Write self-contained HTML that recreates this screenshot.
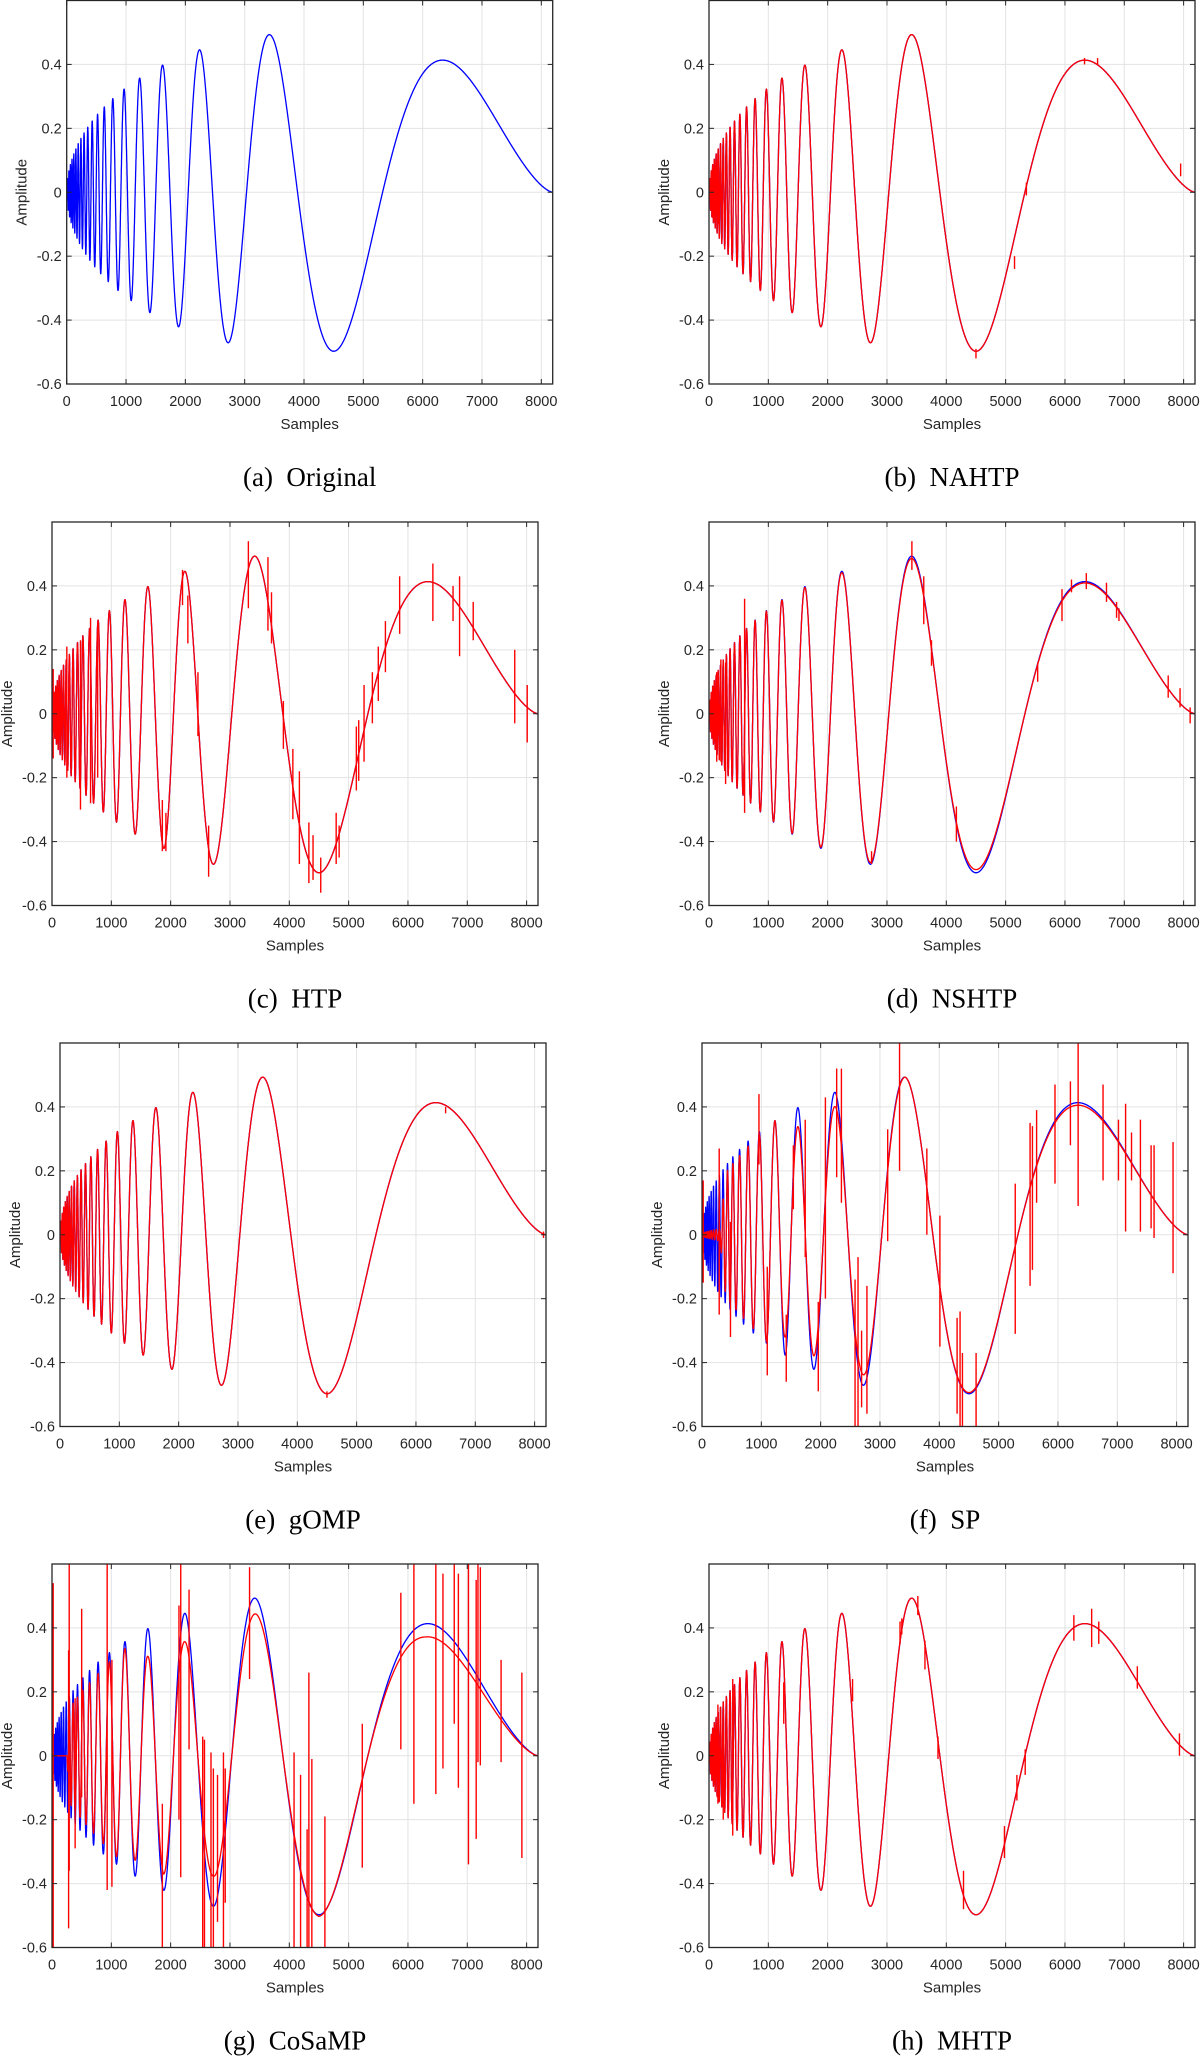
<!DOCTYPE html>
<html><head><meta charset="utf-8">
<style>
html,body{margin:0;padding:0;background:#fff;}
body{width:1200px;height:2062px;overflow:hidden;}
svg{display:block;}
.tick{font-family:"Liberation Sans",sans-serif;font-size:14.5px;fill:#262626;}
.lab{font-family:"Liberation Sans",sans-serif;font-size:15px;fill:#262626;}
.cap{font-family:"Liberation Serif",serif;font-size:27px;fill:#000;}
</style></head>
<body>
<svg id="fig" width="1200" height="2062" viewBox="0 0 1200 2062" xmlns="http://www.w3.org/2000/svg"></svg>
<script>
// ---- data ----
const N = 8192;
const dopplerEps = [0.05];
const xTicks = [0,1000,2000,3000,4000,5000,6000,7000,8000];
const yTicks = [-0.6,-0.4,-0.2,0,0.2,0.4];
const yTickLabels = ["-0.6","-0.4","-0.2","0","0.2","0.4"];
const panelIds = ["a","b","c","d","e","f","g","h"];
const panelNames = ["Original","NAHTP","HTP","NSHTP","gOMP","SP","CoSaMP","MHTP"];
// gain knots [sample, gain] for reconstructed (red) series
const gainA = null;
const gainB = [[0,1],[8192,1]];
const gainC = [[0,1],[8192,1]];
const gainD = [[0,1],[4500,0.98],[8192,1]];
const gainE = [[0,1],[8192,1]];
const gainF = [[0,0.1],[300,0.1],[400,0.9],[1230,1],[1400,0.85],[1620,0.85],[1880,0.9],[2240,0.9],[2720,0.93],[3420,1],[6300,0.98],[8192,1]];
const gainG = [[0,0],[250,0],[300,0.8],[1200,0.95],[1620,0.78],[1880,0.88],[2240,0.8],[2720,0.8],[3420,0.9],[4500,1.01],[6300,0.9],[8192,0.9]];
const gainH = [[0,1],[8192,1]];
// spikes [sample, top value, bottom value]
const spikesA = [];
const spikesB = [[6550,0.42,0.40],[4500,-0.49,-0.52],[5150,-0.20,-0.24],[5350,0.03,-0.01],[7950,0.09,0.05],[6330,0.42,0.40],[60,0.08,-0.08],[150,0.12,-0.10]];
const spikesC = [[3310,0.54,0.33],[3640,0.49,0.26],[3700,0.38,0.22],[2200,0.45,0.34],[2290,0.37,0.22],[2460,0.13,-0.07],[1860,-0.27,-0.43],[1920,-0.31,-0.43],[2640,-0.35,-0.51],[3900,0.04,-0.11],[4060,-0.11,-0.33],[4170,-0.18,-0.47],[4330,-0.34,-0.53],[4400,-0.38,-0.52],[4530,-0.45,-0.56],[4790,-0.31,-0.47],[4840,-0.35,-0.45],[5130,-0.04,-0.24],[5170,-0.02,-0.21],[5260,0.09,-0.15],[5400,0.13,-0.03],[5500,0.21,0.04],[5620,0.29,0.13],[5860,0.43,0.25],[6420,0.47,0.29],[6760,0.40,0.29],[6870,0.43,0.18],[7100,0.35,0.23],[7800,0.20,-0.03],[8010,0.09,-0.09],[20,0.14,-0.14],[250,0.21,-0.20],[480,0.23,-0.30],[650,0.30,-0.28],[770,0.27,-0.20]];
const spikesD = [[3420,0.54,0.45],[3620,0.43,0.28],[3750,0.23,0.15],[5540,0.16,0.10],[5950,0.39,0.29],[6110,0.42,0.38],[6360,0.44,0.39],[6700,0.41,0.35],[6870,0.35,0.30],[6910,0.33,0.29],[7740,0.12,0.05],[7940,0.08,0.02],[8110,0.02,-0.03],[4170,-0.29,-0.40],[2740,-0.43,-0.47],[600,0.36,-0.31],[130,0.13,-0.15],[200,0.17,-0.15],[280,0.16,-0.22]];
const spikesE = [[6500,0.40,0.38],[8150,0.01,-0.01],[4500,-0.49,-0.51],[100,0.09,-0.09]];
const spikesF = [[20,0.17,-0.15],[290,0.27,-0.25],[480,0.04,-0.32],[960,0.44,0.22],[1100,-0.10,-0.44],[1420,-0.25,-0.46],[1540,0.28,0.08],[1740,0.36,-0.07],[1960,-0.21,-0.49],[2080,0.43,-0.20],[2270,0.52,0.18],[2350,0.52,0.10],[2580,-0.14,-0.60],[2630,-0.07,-0.60],[2690,-0.30,-0.54],[2780,-0.16,-0.56],[3130,0.33,-0.02],[3330,0.60,0.20],[3790,0.27,0.00],[4010,0.06,-0.35],[4300,-0.26,-0.56],[4350,-0.24,-0.60],[4390,-0.37,-0.60],[4620,-0.37,-0.60],[5280,0.16,-0.31],[5530,0.35,-0.16],[5570,0.34,-0.11],[5640,0.39,0.10],[5950,0.47,0.16],[6210,0.48,0.28],[6340,0.60,0.09],[6760,0.47,0.17],[7020,0.36,0.17],[7140,0.41,0.01],[7240,0.32,0.17],[7390,0.36,0.01],[7570,0.28,0.02],[7620,0.28,-0.01],[7940,0.29,-0.12]];
const spikesG = [[20,0.54,-0.60],[280,0.33,-0.54],[290,0.60,-0.36],[390,0.18,-0.29],[500,0.46,-0.13],[930,0.60,-0.42],[1010,0.30,-0.41],[1860,-0.15,-0.60],[2140,0.47,-0.20],[2170,0.60,-0.38],[2310,0.52,0.02],[2540,0.06,-0.60],[2570,0.05,-0.60],[2680,0.01,-0.60],[2720,-0.04,-0.60],[2790,-0.06,-0.52],[2890,0.01,-0.60],[2920,-0.04,-0.46],[3330,0.59,0.24],[4080,0.01,-0.60],[4190,-0.06,-0.60],[4300,-0.23,-0.60],[4330,0.26,-0.60],[4380,-0.01,-0.60],[4600,-0.19,-0.60],[5230,0.10,-0.35],[5880,0.51,0.02],[6100,0.60,-0.15],[6470,0.60,-0.12],[6590,0.57,-0.04],[6780,0.60,0.10],[6850,0.57,-0.10],[7020,0.60,-0.34],[7150,0.55,-0.26],[7180,0.60,-0.02],[7220,0.59,-0.03],[7570,0.30,-0.02],[7920,0.26,-0.32]];
const spikesH = [[3220,0.42,0.35],[3250,0.43,0.38],[3520,0.50,0.44],[3640,0.36,0.27],[3860,0.06,-0.01],[4290,-0.36,-0.48],[4980,-0.22,-0.32],[5190,-0.06,-0.14],[5330,0.02,-0.06],[6150,0.44,0.36],[6450,0.46,0.34],[6570,0.42,0.35],[7220,0.28,0.21],[7930,0.07,0.00],[2420,0.24,0.17],[1260,0.23,0.10],[150,0.16,-0.15],[240,0.15,-0.20],[400,0.24,-0.25]];
const gains = [gainA,gainB,gainC,gainD,gainE,gainF,gainG,gainH];
const spikes = [spikesA,spikesB,spikesC,spikesD,spikesE,spikesF,spikesG,spikesH];

// ---- layout ----
const lefts = [66.7,709,52,709,60,702,52,709];
const tops = [0.5,0.5,522,522,1043,1043,1564,1564];
const W = 486, H = 383.5;
const XMAX = 8192, YMIN = -0.6, YMAX = 0.6;
const NS = "http://www.w3.org/2000/svg";
const fig = document.getElementById('fig');

function doppler(n){
  const t = n/N, e = dopplerEps[0];
  return Math.sqrt(t*(1-t))*Math.sin(2*Math.PI*(1+e)/(t+e));
}
const orig = [];
for(let n=0;n<=N;n++) orig.push(doppler(n));

function gainAt(knots,n){
  for(let i=0;i<knots.length-1;i++){
    const a=knots[i], b=knots[i+1];
    if(n>=a[0] && n<=b[0]){ const f=(b[0]===a[0])?0:(n-a[0])/(b[0]-a[0]); return a[1]+f*(b[1]-a[1]); }
  }
  return knots[knots.length-1][1];
}
function mk(tag, attrs, parent){
  const e = document.createElementNS(NS, tag);
  for(const k in attrs) e.setAttribute(k, attrs[k]);
  parent.appendChild(e); return e;
}

for(let p=0;p<8;p++){
  const L=lefts[p], T=tops[p];
  const xs = v => L + v/XMAX*W;
  const ys = v => T + (YMAX - v)/(YMAX-YMIN)*H;
  const g = mk('g',{},fig);
  
  
  // grid
  const grid = mk('g',{stroke:'#e3e3e3','stroke-width':'1'},g);
  
  
  xTicks.forEach(v=>{ if(v>0) mk('line',{x1:xs(v),x2:xs(v),y1:T,y2:T+H},grid); });
  yTicks.forEach(v=>{ mk('line',{x1:L,x2:L+W,y1:ys(v),y2:ys(v)},grid); });
  // clip
  const cid='clip'+p;
  const cp = mk('clipPath',{id:cid},g);
  mk('rect',{x:L,y:T,width:W,height:H},cp);
  const plot = mk('g',{'clip-path':'url(#'+cid+')'},g);
  // blue original
  let d='';
  for(let n=0;n<=N;n++){ d += (n?'L':'M')+xs(n).toFixed(1)+' '+ys(orig[n]).toFixed(1); }
  const blue = mk('path',{d:d,fill:'none',stroke:'#0000ff','stroke-width':'1.3','stroke-linejoin':'round'},plot);
  
  
  if(gains[p]){
    let dr='';
    for(let n=0;n<=N;n++){ dr += (n?'L':'M')+xs(n).toFixed(1)+' '+ys(orig[n]*gainAt(gains[p],n)).toFixed(1); }
    const red = mk('path',{d:dr,fill:'none',stroke:'#ff0000','stroke-width':'1.3','stroke-linejoin':'round'},plot);
    
    
    spikes[p].forEach(s=>{
      const ln = mk('line',{x1:xs(s[0]),x2:xs(s[0]),y1:ys(s[1]),y2:ys(s[2]),stroke:'#ff0000','stroke-width':'1.4'},plot);
      
      
    });
  }
  // axes box
  const box = mk('rect',{x:L,y:T,width:W,height:H,fill:'none',stroke:'#262626','stroke-width':'1.3'},g);
  
  
  const tk = mk('g',{stroke:'#262626','stroke-width':'1'},g);
  xTicks.forEach(v=>{ mk('line',{x1:xs(v),x2:xs(v),y1:T+H,y2:T+H-5},tk); mk('line',{x1:xs(v),x2:xs(v),y1:T,y2:T+5},tk); });
  yTicks.forEach(v=>{ mk('line',{x1:L,x2:L+5,y1:ys(v),y2:ys(v)},tk); mk('line',{x1:L+W,x2:L+W-5,y1:ys(v),y2:ys(v)},tk); });
  // tick labels
  xTicks.forEach(v=>{
    const t = mk('text',{x:xs(v),y:T+H+22,'text-anchor':'middle',class:'tick'},g);
    t.textContent = String(v);
    
    
  });
  yTicks.forEach((v,i)=>{
    const t = mk('text',{x:L-5,y:ys(v)+5,'text-anchor':'end',class:'tick'},g);
    t.textContent = yTickLabels[i];
    
    
  });
  const xl = mk('text',{x:L+W/2,y:T+H+45,'text-anchor':'middle',class:'lab'},g);
  xl.textContent='Samples';
  
  
  const yx = L-40, yy = T+H/2;
  const yl = mk('text',{x:yx,y:yy,'text-anchor':'middle',class:'lab',transform:'rotate(-90 '+yx+' '+yy+')'},g);
  yl.textContent='Amplitude';
  
  
  const cap = mk('text',{x:L+W/2,y:T+H+102,'text-anchor':'middle',class:'cap'},g);
  cap.textContent='('+panelIds[p]+')\u00a0\u00a0'+panelNames[p];
  
  
}
</script>
</body></html>
